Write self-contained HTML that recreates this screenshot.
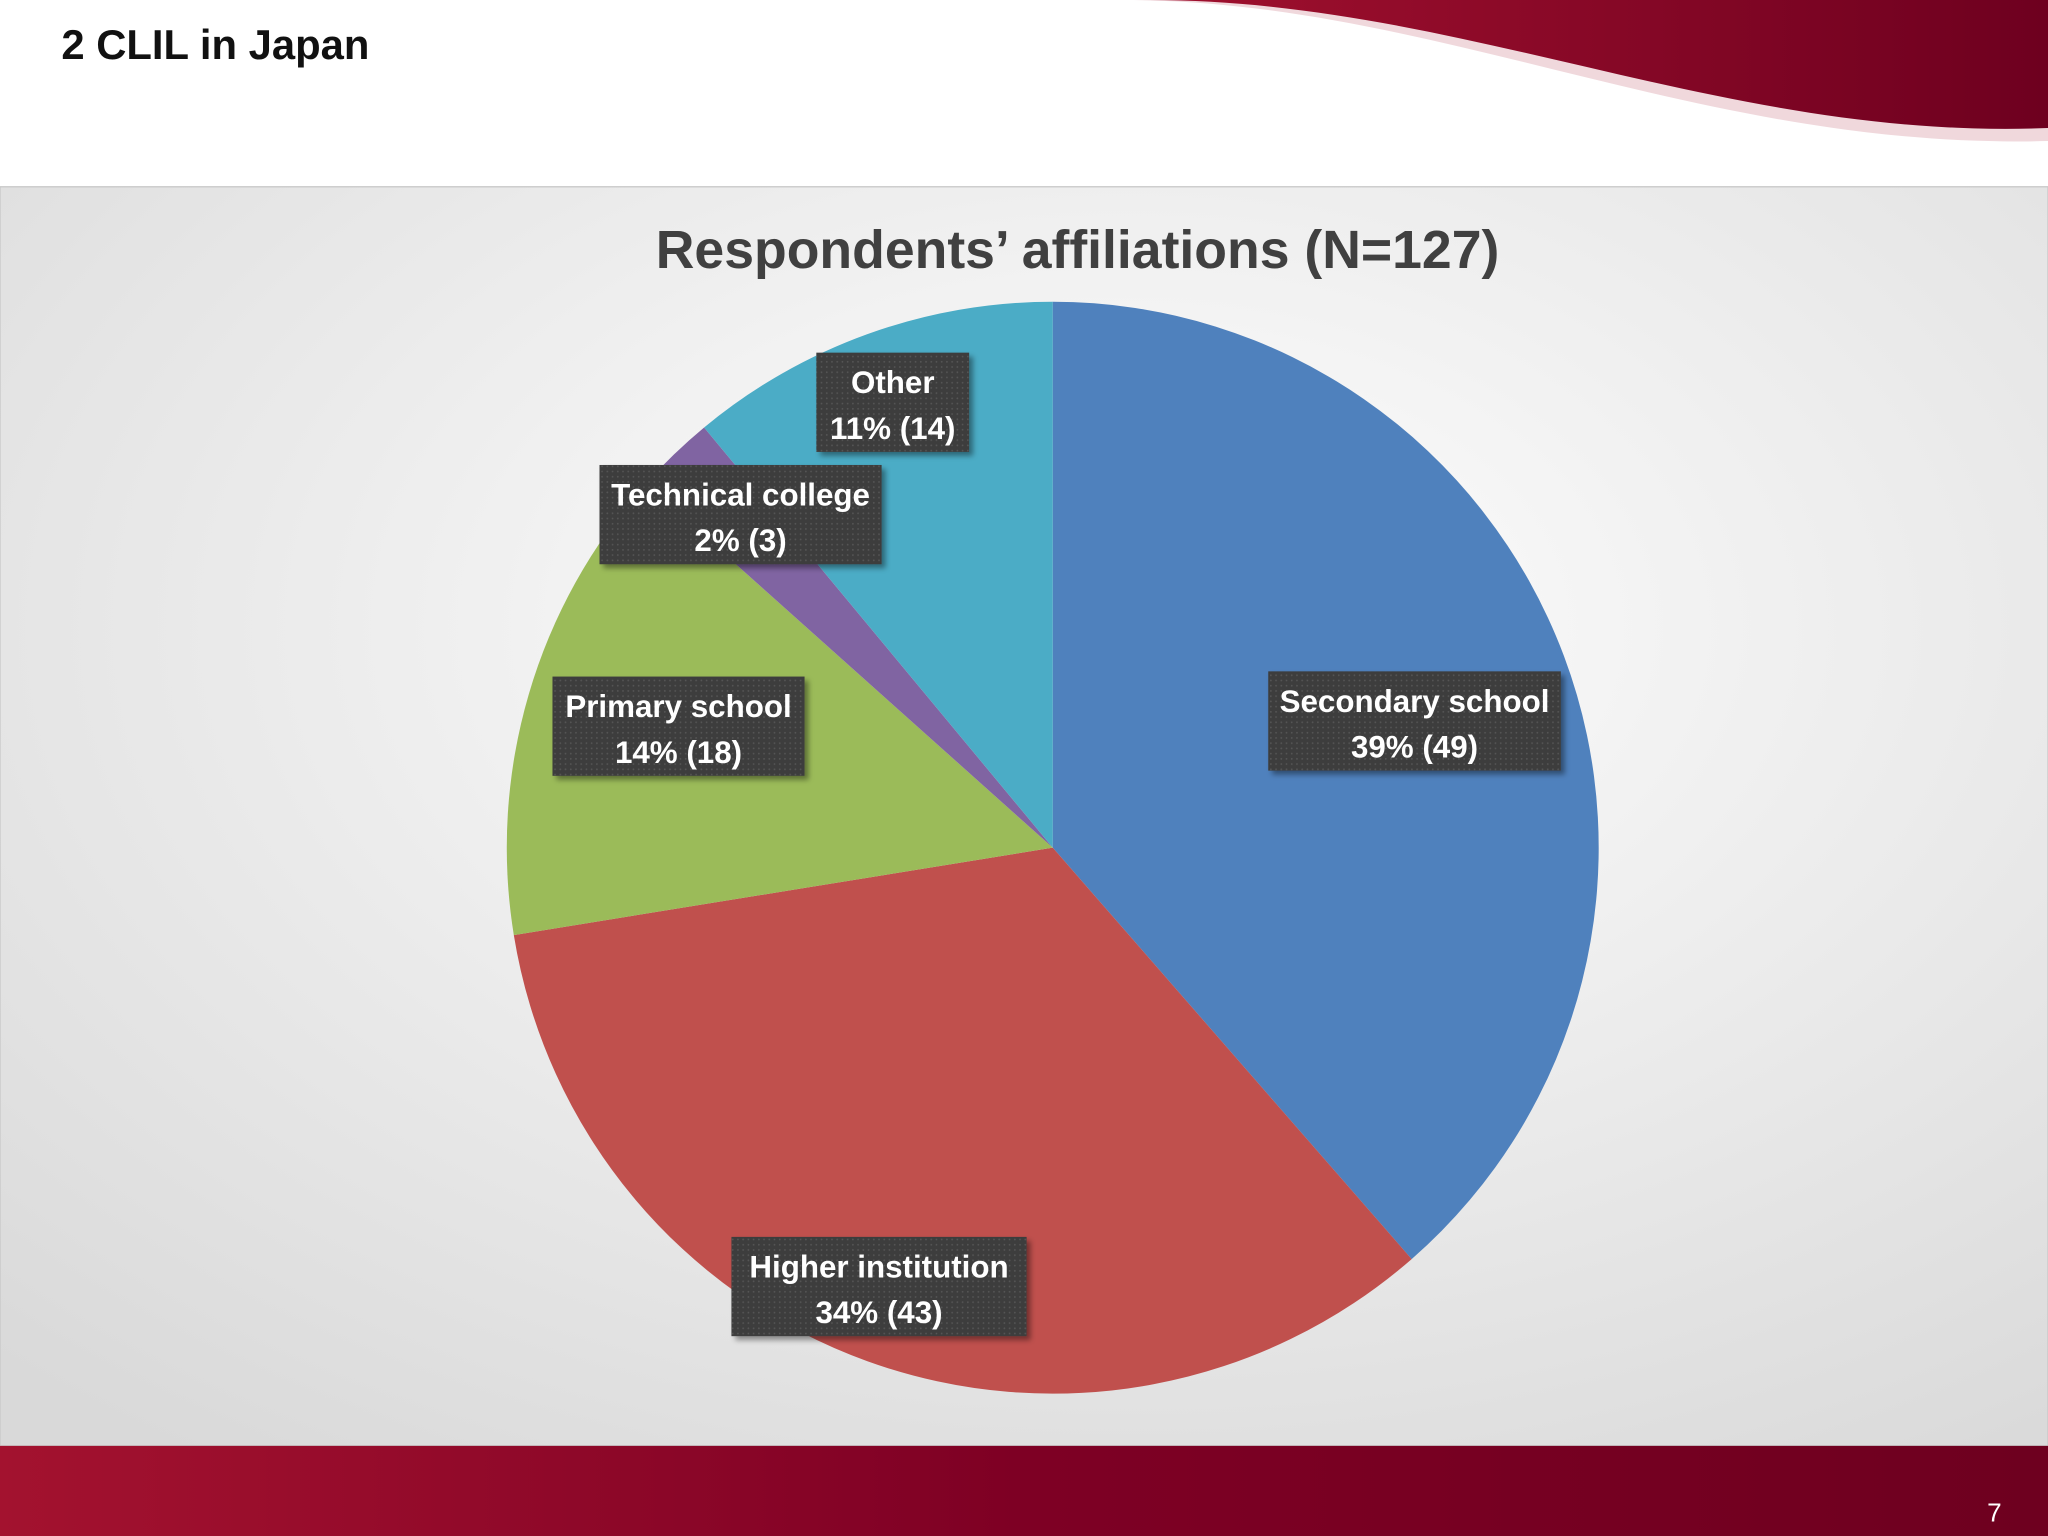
<!DOCTYPE html>
<html><head><meta charset="utf-8"><style>
html,body{margin:0;padding:0;width:2048px;height:1536px;overflow:hidden;background:#fff}
svg{display:block}
text{font-family:"Liberation Sans",sans-serif}
</style></head><body>
<svg id="s" width="2048" height="1536" viewBox="0 0 1568 1176">
<defs>
<radialGradient id="bg" cx="0.55" cy="0.35" r="0.8">
<stop offset="0" stop-color="#ffffff"/><stop offset="1" stop-color="#d9d9d9"/></radialGradient>
<linearGradient id="foot" x1="0" x2="1"><stop offset="0" stop-color="#a3122f"/><stop offset="0.5" stop-color="#7e0024"/><stop offset="1" stop-color="#6e001f"/></linearGradient>
<linearGradient id="sw" x1="0" x2="1"><stop offset="0" stop-color="#a0102e"/><stop offset="1" stop-color="#6e001f"/></linearGradient>
<pattern id="dots" width="4" height="4" patternUnits="userSpaceOnUse"><rect width="4" height="4" fill="#3c3c3c"/><circle cx="1" cy="1" r="0.7" fill="#555"/></pattern>
<filter id="sh" x="-10%" y="-10%" width="130%" height="130%"><feDropShadow dx="3" dy="3" stdDeviation="2" flood-opacity="0.4"/></filter>
</defs>
<rect width="1568" height="1176" fill="#fff"/>
<path d="M860,0 C1100,0 1300,115 1568,108 L1568,0 Z" fill="#f0d8dc"/>
<path d="M880,0 C1120,0 1320,108 1568,98 L1568,0 Z" fill="url(#sw)"/>
<text x="47" y="45" font-size="32" font-weight="bold" fill="#111">2 CLIL in Japan</text>
<rect x="0" y="143" width="1568" height="964" fill="url(#bg)" stroke="#c8c8c8"/>
<text x="825" y="205" font-size="41" font-weight="bold" fill="#404040" text-anchor="middle">Respondents’ affiliations (N=127)</text>
<g id="pie"></g>
<g id="labels"></g>
<rect x="0" y="1107" width="1568" height="69" fill="url(#foot)"/>
<text x="1527" y="1165" font-size="20" fill="#fff" text-anchor="middle">7</text>
</svg>
<script>
const categories=["Secondary school","Higher institution","Primary school","Technical college","Other"];
const counts=[49,43,18,3,14];
const colors=["#4f81bd","#c0504d","#9bbb59","#8064a2","#4bacc6"];
const labelBoxes=[[971,514,224],[560,947,226],[423,518,193],[459,356,216],[625,270,117]];
const cx=806,cy=649,R=418;
const total=counts.reduce((a,b)=>a+b,0);
const ns="http://www.w3.org/2000/svg";
const pie=document.getElementById('pie'),lg=document.getElementById('labels');
let a0=0;
function pt(a,r){return [cx+r*Math.sin(a),cy-r*Math.cos(a)];}
counts.forEach((v,i)=>{
  const a1=a0+v/total*2*Math.PI;
  const p0=pt(a0,R),p1=pt(a1,R);
  const path=document.createElementNS(ns,'path');
  path.setAttribute('d',`M${cx},${cy} L${p0[0]},${p0[1]} A${R},${R} 0 ${a1-a0>Math.PI?1:0} 1 ${p1[0]},${p1[1]} Z`);
  path.setAttribute('fill',colors[i]);
  
  
  pie.appendChild(path);
  const b=labelBoxes[i];
  const g=document.createElementNS(ns,'g');
  
  
  const r=document.createElementNS(ns,'rect');
  r.setAttribute('x',b[0]);r.setAttribute('y',b[1]);r.setAttribute('width',b[2]);r.setAttribute('height',76);
  r.setAttribute('fill','url(#dots)');r.setAttribute('filter','url(#sh)');
  g.appendChild(r);
  const pct=Math.round(v/total*100);
  [categories[i],pct+'% ('+v+')'].forEach((t,k)=>{
    const tx=document.createElementNS(ns,'text');
    tx.setAttribute('x',b[0]+b[2]/2);tx.setAttribute('y',b[1]+31+k*35);
    tx.setAttribute('font-size','24');tx.setAttribute('font-weight','bold');
    tx.setAttribute('fill','#fff');tx.setAttribute('text-anchor','middle');
    tx.textContent=t;g.appendChild(tx);
  });
  lg.appendChild(g);
  a0=a1;
});
</script>
</body></html>
